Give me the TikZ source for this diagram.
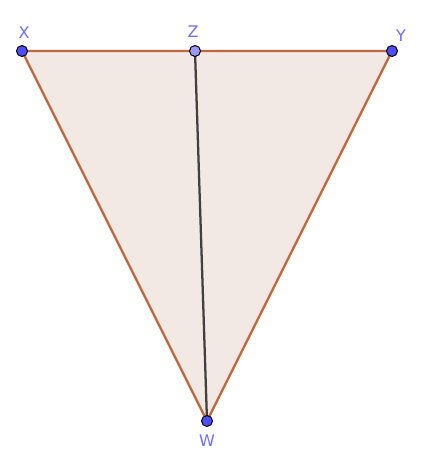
\documentclass[tikz,border=0pt]{standalone}
\usepackage{fontspec}
\setmainfont{DejaVu Sans}
\definecolor{triedge}{RGB}{190,104,62}
\definecolor{trifill}{RGB}{243,233,228}
\definecolor{ptblue}{RGB}{77,77,255}
\definecolor{ptlight}{RGB}{153,153,255}
\definecolor{lblblue}{RGB}{110,110,255}
\tikzset{
  pt/.style={circle,draw=black,fill=ptblue,line width=0.75pt,inner sep=0pt,minimum size=8.25pt},
  ptz/.style={pt,fill=ptlight},
  lbl/.style={text=lblblue,font=\fontsize{12}{14}\selectfont}
}
\begin{document}
\begin{tikzpicture}[x=0.75pt,y=-0.75pt]
\useasboundingbox (0,0) rectangle (427,465);

\coordinate (X) at (22,51);
\coordinate (Z) at (195,51);
\coordinate (Y) at (392,51);
\coordinate (W) at (207,421);

\fill[trifill] (X) -- (Y) -- (W) -- cycle;
\draw[triedge,line width=1.7pt] (X) -- (Y) -- (W) -- cycle;
\draw[black!75,line width=1.7pt] (Z) -- (W);

\node[pt] (x) at (X) {};
\node[ptz] (z) at (Z) {};
\node[pt] (y) at (Y) {};
\node[pt] (w) at (W) {};

\node[lbl] at (24,33) {X};
\node[lbl] at (193,32) {Z};
\node[lbl] at (401,36) {Y};
\node[lbl] at (207,441) {W};
\end{tikzpicture}
\end{document}
